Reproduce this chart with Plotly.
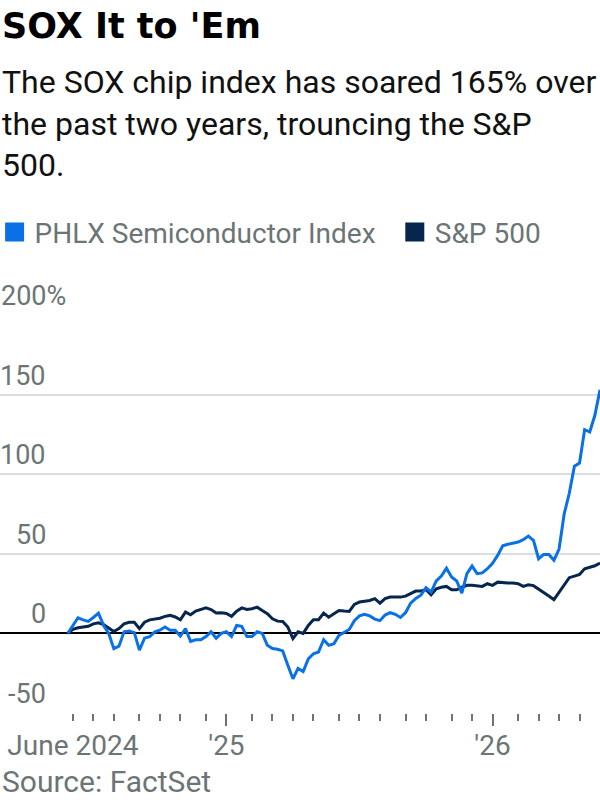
import pandas as pd
import plotly.graph_objects as go

# ---- data (weekly, % change since start) ----
start_date = "2024-05-31"
n_weeks = 105
sox = [0, 5, 9.8, 8.5, 7.5, 10, 12.7, 5, 0, -9.6,
       -8, 1, 1.5, 0.5, -10.5, -3, -2, 1, 2, 4,
       2, 2, -1.7, 3, -5, -4, -4, -2, 1, -3,
       0, 1, -2, 5, 4.5, -2, -2, 1, 0, -7.5,
       -9.5, -10, -11, -20, -28.5, -22, -24, -16, -12.8, -11.7,
       -4, -7.5, -6.5, -1.3, 0.5, 2.5, 8, 11, 12, 11,
       9, 8, 11.5, 13, 12, 10, 13, 19, 22, 24,
       28.7, 26, 33, 36, 41, 35.4, 32.9, 25.3, 37.5, 42.3,
       37.5, 38, 40.6, 44, 49, 55, 56, 56.5, 57.4, 58.9,
       61.1, 58.4, 46.9, 49.6, 49.6, 45.9, 53, 75, 88, 105,
       107, 128, 126.5, 137, 153]
spx = [0, 2.5, 3.5, 4, 4.5, 6, 6.7, 5.5, 3.3, 1.2,
       3, 6, 7, 7, 3, 7, 8.5, 9, 9.5, 10.7,
       11.3, 10.3, 8.5, 13.4, 11.7, 14, 15, 16, 15, 12.8,
       13, 12.5, 10.7, 14, 16, 15, 15.5, 16.5, 14.4, 12.4,
       9.2, 7.7, 7.5, 4, -3.3, 1, 0, 5, 8.6, 8.6,
       12.8, 10.2, 12.3, 14.4, 14, 13.8, 18.2, 19.7, 20.2, 20.7,
       21.8, 19, 21.8, 22.8, 22.8, 22.8, 23.4, 25, 26.6, 26.6,
       27.4, 24.3, 28, 29, 29.5, 27.4, 27.4, 29, 30.2, 30.2,
       30, 29.5, 31.2, 30.2, 32.2, 31.8, 31.6, 31.6, 31.2, 29.5,
       30.5, 30, 28, 26, 23.5, 21.2, 26, 30.2, 35, 36,
       37, 40.6, 41.6, 42.5, 44.2]
series_names = ["PHLX Semiconductor Index", "S&P 500"]
series_colors = ["#0a70e6", "#06264d"]
y_ticks = [-50, 0, 50, 100, 150, 200]
y_labels = ["-50", "0", "50", "100", "150", "200%"]
title = "SOX It to 'Em"
subtitle = "The SOX chip index has soared 165% over<br>the past two years, trouncing the S&P<br>500."
source = "Source: FactSet"

dates = pd.date_range(start_date, periods=n_weeks, freq="7D")
month_ticks = [d for d in dates if d.day <= 7]
year_ticks = [d for d in month_ticks if d.month == 1]
label_ticks = [month_ticks[0]] + year_ticks
label_text = ["June 2024", "'25", "'26"]

FONT = "Roboto"
GRAY = "#6c7576"
x_range = [dates[0] - pd.Timedelta(days=92.7), dates[-1]]

fig = go.Figure()
for name, vals, col in [(series_names[1], spx, series_colors[1]),
                        (series_names[0], sox, series_colors[0])]:
    fig.add_trace(go.Scatter(x=dates, y=vals, mode="lines", name=name,
                             line=dict(color=col, width=3), showlegend=False))
# legend entries (square swatches), one legend box per entry
for name, col, lg in zip(series_names, series_colors, ["legend", "legend2"]):
    fig.add_trace(go.Scatter(x=[None], y=[None], mode="markers", name=name, legend=lg,
                             marker=dict(symbol="square", size=16, color=col,
                                         line=dict(color=col, width=3))))
# helper trace for the overlay axis with long year ticks
fig.add_trace(go.Scatter(x=[dates[0]], y=[None], xaxis="x2", showlegend=False,
                         hoverinfo="skip"))

legend_common = dict(orientation="h", xanchor="left", y=1.208, yanchor="middle",
                     font=dict(size=28, color=GRAY, family=FONT),
                     itemclick=False, entrywidth=0)
fig.update_layout(
    width=600, height=800,
    margin=dict(l=0, r=0, t=315, b=87, autoexpand=False),
    paper_bgcolor="white", plot_bgcolor="white",
    font=dict(family=FONT, color=GRAY),
    showlegend=True,
    legend=dict(x=-0.009, **legend_common),
    legend2=dict(x=0.658, **legend_common),
    xaxis=dict(type="date", range=x_range, showgrid=False, zeroline=False,
               showline=False, tickmode="array", tickvals=label_ticks,
               ticktext=label_text, ticks="outside", ticklen=7, tickwidth=2,
               tickcolor=GRAY, tickfont=dict(size=28, color=GRAY, family=FONT),
               minor=dict(tickmode="array", tickvals=month_ticks, ticks="outside",
                          ticklen=7, tickwidth=2, tickcolor=GRAY, showgrid=False)),
    xaxis2=dict(type="date", range=x_range, overlaying="x", anchor="y", side="bottom",
                showgrid=False, zeroline=False, showline=False, tickmode="array",
                tickvals=year_ticks, ticks="outside", ticklen=12, tickwidth=2,
                tickcolor=GRAY, showticklabels=False),
    yaxis=dict(range=[-50, 200], tickmode="array", tickvals=y_ticks,
               showticklabels=False, showgrid=True, gridcolor="#dddddd", gridwidth=1.5,
               zeroline=True, zerolinecolor="black", zerolinewidth=2, showline=False),
)

annotations = [
    dict(text=f"<b>{title}</b>", x=0, y=1, xref="paper", yref="paper", xanchor="left",
         yanchor="top", yshift=311, showarrow=False,
         font=dict(size=35, color="black", family="DejaVu Sans")),
    dict(text=subtitle, x=0, y=1, xref="paper", yref="paper", xanchor="left",
         yanchor="top", yshift=254, showarrow=False, align="left",
         font=dict(size=32, color="#111111", family=FONT)),
    dict(text=source, x=0, y=0, xref="paper", yref="paper", xanchor="left",
         yanchor="bottom", yshift=-88, showarrow=False,
         font=dict(size=30, color=GRAY, family=FONT)),
]
for v, t in zip(y_ticks, y_labels):
    # numbers right-aligned; the "%" suffix hangs past the alignment edge
    hang = 20 if t.endswith("%") else 0
    annotations.append(dict(text=t, x=47 / 600, y=v, xref="paper", yref="y",
                            xanchor="right", yanchor="bottom", yshift=2, xshift=hang,
                            showarrow=False, borderpad=0,
                            font=dict(size=27, color=GRAY, family=FONT)))
fig.update_layout(annotations=annotations)

fig.write_html("out.html")
